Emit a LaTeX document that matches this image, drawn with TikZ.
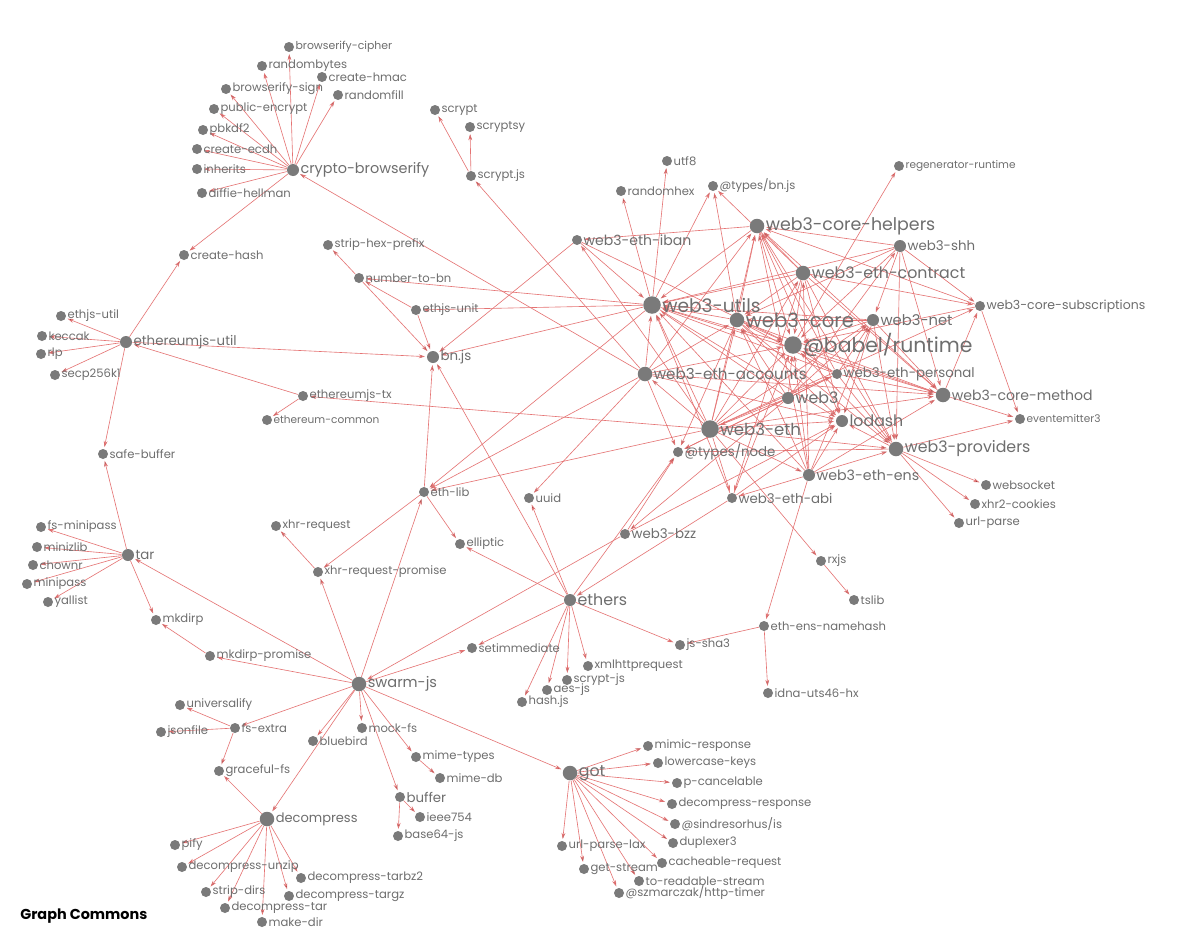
\documentclass[tikz,border=0pt]{standalone}
\usepackage{fontspec}
\setmainfont{Poppins}
\usetikzlibrary{arrows.meta}
\pgfdeclarelayer{bg}
\pgfsetlayers{bg,main}
\definecolor{dotgray}{HTML}{7A7A7A}
\definecolor{txtgray}{HTML}{6E6E6E}
\definecolor{linkred}{HTML}{E57373}

\begin{document}
\begin{tikzpicture}[
    x=0.02cm, y=-0.02cm,
    dotS/.style={circle, fill=dotgray, inner sep=0pt, minimum size=0.2cm, label distance=1pt},
    dotM/.style={dotS, minimum size=0.24cm},
    dotL/.style={dotS, minimum size=0.29cm},
    dotX/.style={dotS, minimum size=0.35cm},
    sz/.style={font=\fontsize{#1}{#1}\selectfont},
    lblS/.style={text=txtgray, inner sep=0.5pt, sz=6.6},
    lblM/.style={lblS, sz=7.6},
    lblL/.style={lblS, sz=9},
    lblX/.style={lblS, sz=10.6},
    dep/.style={draw=linkred, line width=0.35pt, -{Stealth[length=3.5pt, width=2.2pt]}, shorten >=1pt}
]

% background and frame
\begin{pgfonlayer}{bg}
\path[fill=white] (0,0) rectangle (1182,943);
\end{pgfonlayer}

% crypto-browserify cluster
\node[dotS, label={[lblS, sz=6.2]right:browserify-cipher}] (bcipher) at (289,47) {};
\node[dotS, label={[lblS]right:randombytes}] (rbytes) at (262,66) {};
\node[dotS, label={[lblS]right:create-hmac}] (chmac) at (322,77) {};
\node[dotS, label={[lblS]right:browserify-sign}] (bsign) at (226,89) {};
\node[dotS, label={[lblS]right:randomfill}] (rfill) at (338,95) {};
\node[dotS, label={[lblS]right:public-encrypt}] (pubenc) at (214,109) {};
\node[dotS, label={[lblS]right:pbkdf2}] (pbkdf) at (203,130) {};
\node[dotS, label={[lblS]right:create-ecdh}] (cecdh) at (197,149) {};
\node[dotS, label={[lblS]right:inherits}] (inherits) at (197,169) {};
\node[dotS, label={[lblS]right:diffie-hellman}] (dh) at (202,193) {};
\node[dotM, label={[lblM, sz=8.2]right:crypto-browserify}] (cryptob) at (293,170) {};
\node[dotS, label={[lblS]right:create-hash}] (chash) at (184,255) {};

% scrypt
\node[dotS, label={[lblS]right:scrypt}] (scrypt) at (435,110) {};
\node[dotS, label={[lblS]right:scryptsy}] (scryptsy) at (470,127) {};
\node[dotS, label={[lblS]right:scrypt.js}] (scryptjs) at (471,176) {};

% web3 core
\node[dotS, label={[lblS]right:utf8}] (utf8) at (667,161) {};
\node[dotS, label={[lblS]right:randomhex}] (randomhex) at (621,191) {};
\node[dotS, label={[lblS]right:@types/bn.js}] (typesbn) at (713,186) {};
\node[dotS, label={[lblS, sz=6.0]right:regenerator-runtime}] (regen) at (899,166) {};
\node[dotS, label={[lblS, sz=8.0]right:web3-eth-iban}] (iban) at (577,240) {};
\node[dotL, label={[lblL, sz=9.9]right:web3-core-helpers}] (helpers) at (757,226) {};
\node[dotM, label={[lblM]right:web3-shh}] (shh) at (900,246) {};
\node[dotL, label={[lblL]right:web3-eth-contract}] (contract) at (803,273) {};
\node[dotX, label={[lblX]right:web3-utils}] (utils) at (652,305) {};
\node[dotL, label={[lblL, sz=11.2]right:web3-core}] (core) at (737,320) {};
\node[dotM, label={[lblL, sz=8.4]right:web3-net}] (net) at (873,320) {};
\node[dotS, label={[lblS, sz=7.1]right:web3-core-subscriptions}] (subs) at (980,306) {};
\node[dotX, label={[lblX, sz=11.6]right:@babel/runtime}] (babel) at (793,345) {};
\node[dotL, label={[lblL, sz=8.6]right:web3-eth-accounts}] (accounts) at (645,374) {};
\node[dotS, label={[lblM]right:web3-eth-personal}] (personal) at (837,374) {};
\node[dotM, label={[lblL]right:web3}] (w3) at (788,398) {};
\node[dotL, label={[lblL, sz=8.0]right:web3-core-method}] (method) at (943,395) {};
\node[dotS, label={[lblS, sz=6.0]right:eventemitter3}] (ee3) at (1020,419) {};
\node[dotM, label={[lblL]right:lodash}] (lodash) at (842,421) {};
\node[dotX, label={[lblX, sz=9.4]right:web3-eth}] (eth) at (710,429) {};
\node[dotL, label={[lblL]right:web3-providers}] (providers) at (896,449) {};
\node[dotS, label={[lblM]right:@types/node}] (typesnode) at (678,452) {};
\node[dotM, label={[lblL, sz=8.1]right:web3-eth-ens}] (ens) at (809,475) {};
\node[dotS, label={[lblS]right:websocket}] (websocket) at (986,485) {};
\node[dotS, label={[lblM]right:web3-eth-abi}] (abi) at (732,498) {};
\node[dotS, label={[lblS]right:xhr2-cookies}] (xhr2) at (975,504) {};
\node[dotS, label={[lblS]right:url-parse}] (urlparse) at (959,523) {};
\node[dotS, label={[lblM]right:web3-bzz}] (bzz) at (625,534) {};
\node[dotS, label={[lblS]right:rxjs}] (rxjs) at (821,561) {};
\node[dotS, label={[lblS]right:tslib}] (tslib) at (854,600) {};

% bn.js and friends
\node[dotS, label={[lblS]right:strip-hex-prefix}] (striphex) at (328,245) {};
\node[dotS, label={[lblS]right:number-to-bn}] (numbn) at (359,278) {};
\node[dotS, label={[lblS]right:ethjs-unit}] (ethjsunit) at (416,310) {};
\node[dotM, label={[lblM]right:bn.js}] (bnjs) at (433,357) {};
\node[dotS, label={[lblS]right:ethereumjs-tx}] (ethtx) at (303,396) {};
\node[dotS, label={[lblS, sz=6.0]right:ethereum-common}] (ethcommon) at (267,420) {};

% ethereumjs-util
\node[dotS, label={[lblS]right:ethjs-util}] (ethjsutil) at (61,316) {};
\node[dotS, label={[lblS]right:keccak}] (keccak) at (42,336) {};
\node[dotM, label={[lblM]right:ethereumjs-util}] (ethutil) at (126,342) {};
\node[dotS, label={[lblS]right:rlp}] (rlp) at (41,354) {};
\node[dotS, label={[lblS]right:secp256k1}] (secp) at (55,375) {};
\node[dotS, label={[lblS]right:safe-buffer}] (safebuf) at (103,454) {};

% tar
\node[dotS, label={[lblS]right:fs-minipass}] (fsminipass) at (41,527) {};
\node[dotS, label={[lblS]right:minizlib}] (minizlib) at (37,547) {};
\node[dotM, label={[lblM]right:tar}] (tar) at (128,555) {};
\node[dotS, label={[lblS]right:chownr}] (chownr) at (33,565) {};
\node[dotS, label={[lblS]right:minipass}] (minipass) at (27,584) {};
\node[dotS, label={[lblS]right:yallist}] (yallist) at (48,602) {};
\node[dotS, label={[lblS]right:mkdirp}] (mkdirp) at (156,620) {};
\node[dotS, label={[lblS]right:mkdirp-promise}] (mkdirpprom) at (210,656) {};

% eth-lib and ethers
\node[dotS, label={[lblS]right:uuid}] (uuid) at (529,498) {};
\node[dotS, label={[lblS]right:eth-lib}] (ethlib) at (424,492) {};
\node[dotS, label={[lblS]right:xhr-request}] (xhrreq) at (276,526) {};
\node[dotS, label={[lblS]right:elliptic}] (elliptic) at (460,544) {};
\node[dotS, label={[lblS]right:xhr-request-promise}] (xhrprom) at (318,572) {};
\node[dotM, label={[lblL]right:ethers}] (ethers) at (570,600) {};
\node[dotS, label={[lblS]right:eth-ens-namehash}] (namehash) at (764,626) {};
\node[dotS, label={[lblS]right:js-sha3}] (jssha) at (680,645) {};
\node[dotS, label={[lblS]right:setimmediate}] (setimm) at (472,648) {};
\node[dotS, label={[lblS]right:xmlhttprequest}] (xmlhttp) at (588,666) {};
\node[dotS, label={[lblS]right:scrypt-js}] (scryptjsb) at (567,680) {};
\node[dotS, label={[lblS]right:aes-js}] (aesjs) at (547,690) {};
\node[dotS, label={[lblS]right:idna-uts46-hx}] (idna) at (768,693) {};
\node[dotS, label={[lblS]right:hash.js}] (hashjs) at (522,702) {};

% swarm-js
\node[dotL, label={[lblL, sz=8.3]right:swarm-js}] (swarm) at (359,684) {};
\node[dotS, label={[lblS]right:universalify}] (universalify) at (180,705) {};
\node[dotS, label={[lblS]right:jsonfile}] (jsonfile) at (161,732) {};
\node[dotS, label={[lblS]right:fs-extra}] (fsextra) at (235,728) {};
\node[dotS, label={[lblS]right:mock-fs}] (mockfs) at (362,728) {};
\node[dotS, label={[lblS]right:bluebird}] (bluebird) at (313,741) {};
\node[dotS, label={[lblS]right:mime-types}] (mimetypes) at (416,757) {};
\node[dotS, label={[lblS]right:graceful-fs}] (graceful) at (219,771) {};
\node[dotS, label={[lblS]right:mime-db}] (mimedb) at (440,778) {};
\node[dotS, label={[lblM]right:buffer}] (buffer) at (400,797) {};
\node[dotS, label={[lblS]right:ieee754}] (ieee) at (420,817) {};
\node[dotS, label={[lblS]right:base64-js}] (base64) at (398,836) {};

% decompress
\node[dotL, label={[lblL, sz=7.4]right:decompress}] (decompress) at (267,819) {};
\node[dotS, label={[lblS]right:pify}] (pify) at (175,845) {};
\node[dotS, label={[lblS]right:decompress-unzip}] (decunzip) at (182,867) {};
\node[dotS, label={[lblS]right:decompress-tarbz2}] (dectarbz) at (301,878) {};
\node[dotS, label={[lblS]right:strip-dirs}] (stripdirs) at (206,892) {};
\node[dotS, label={[lblS]right:decompress-targz}] (dectargz) at (289,896) {};
\node[dotS, label={[lblS]right:decompress-tar}] (dectar) at (225,908) {};
\node[dotS, label={[lblS]right:make-dir}] (makedir) at (262,922) {};

% got
\node[dotL, label={[lblL]right:got}] (got) at (570,773) {};
\node[dotS, label={[lblS]right:mimic-response}] (mimic) at (648,746) {};
\node[dotS, label={[lblS]right:lowercase-keys}] (lowercase) at (658,763) {};
\node[dotS, label={[lblS]right:p-cancelable}] (pcancel) at (677,783) {};
\node[dotS, label={[lblS]right:decompress-response}] (decresp) at (672,804) {};
\node[dotS, label={[lblS]right:@sindresorhus/is}] (sindre) at (675,824) {};
\node[dotS, label={[lblS]right:duplexer3}] (duplexer) at (673,843) {};
\node[dotS, label={[lblS]right:url-parse-lax}] (urlparselax) at (562,846) {};
\node[dotS, label={[lblS]right:cacheable-request}] (cacheable) at (662,863) {};
\node[dotS, label={[lblS]right:get-stream}] (getstream) at (584,869) {};
\node[dotS, label={[lblS]right:to-readable-stream}] (toreadable) at (639,881) {};
\node[dotS, label={[lblS]right:@szmarczak/http-timer}] (httptimer) at (619,893) {};

% brand
\node[anchor=west, inner sep=0pt, font=\bfseries\fontsize{8.2}{10}\selectfont] (brand) at (20,916) {Graph Commons};

% dependencies
\begin{pgfonlayer}{bg}
\draw[dep] (cryptob) edge (bcipher) edge (rbytes) edge (chmac) edge (bsign) edge (rfill) edge (pubenc)
  edge (pbkdf) edge (cecdh) edge (inherits) edge (dh) edge (chash);
\draw[dep] (scryptjs) edge (scrypt) edge (scryptsy);
\draw[dep] (ethutil) edge (chash) edge (ethjsutil) edge (keccak) edge (rlp) edge (secp) edge (safebuf) edge (bnjs);
\draw[dep] (ethtx) edge (ethutil) edge (ethcommon);
\draw[dep] (numbn) edge (striphex) edge (bnjs);
\draw[dep] (ethjsunit) edge (numbn) edge (bnjs);
\draw[dep] (ethlib) edge (bnjs) edge (elliptic) edge (xhrprom);
\draw[dep] (xhrprom) edge (xhrreq);
\draw[dep] (swarm) edge (ethlib) edge (xhrprom) edge (setimm) edge (tar) edge (mkdirpprom) edge (fsextra)
  edge (bluebird) edge (mockfs) edge (mimetypes) edge (buffer) edge (decompress) edge (got);
\draw[dep] (mkdirpprom) edge (mkdirp);
\draw[dep] (tar) edge (safebuf) edge (fsminipass) edge (minizlib) edge (chownr) edge (minipass) edge (yallist) edge (mkdirp);
\draw[dep] (fsextra) edge (universalify) edge (jsonfile) edge (graceful);
\draw[dep] (decompress) edge (graceful) edge (pify) edge (decunzip) edge (stripdirs) edge (dectar)
  edge (makedir) edge (dectargz) edge (dectarbz);
\draw[dep] (buffer) edge (ieee) edge (base64);
\draw[dep] (mimetypes) edge (mimedb);
\draw[dep] (got) edge (mimic) edge (lowercase) edge (pcancel) edge (decresp) edge (sindre) edge (duplexer)
  edge (cacheable) edge (toreadable) edge (httptimer) edge (getstream) edge (urlparselax);
\draw[dep] (ethers) edge (elliptic) edge (uuid) edge (hashjs) edge (aesjs) edge (scryptjsb) edge (xmlhttp)
  edge (jssha) edge (setimm) edge (bnjs) edge (typesnode);
\draw[dep] (namehash) edge (jssha) edge (idna);
\draw[dep] (rxjs) edge (tslib);
\draw[dep] (babel) edge (regen);
\draw[dep] (providers) edge (ee3) edge (websocket) edge (xhr2) edge (urlparse) edge (helpers) edge (babel)
  edge (typesnode) edge (lodash);
\draw[dep] (method) edge (ee3) edge (helpers) edge (subs) edge (utils) edge (babel);
\draw[dep] (subs) edge (ee3) edge (helpers) edge (babel);
\draw[dep] (w3) edge (bzz) edge (core) edge (eth) edge (personal) edge (net) edge (shh) edge (utils)
  edge (babel) edge (typesnode);
\draw[dep] (bzz) edge (swarm) edge (typesnode) edge (lodash);
\draw[dep] (core) edge (helpers) edge (method) edge (utils) edge (babel) edge (typesbn) edge (typesnode)
  edge (lodash) edge (providers);
\draw[dep] (helpers) edge (iban) edge (utils) edge (babel) edge (lodash);
\draw[dep] (eth) edge (core) edge (helpers) edge (method) edge (subs) edge (abi) edge (accounts)
  edge (contract) edge (ens) edge (iban) edge (personal) edge (net) edge (utils) edge (babel)
  edge (ethtx) edge (rxjs) edge (ethlib) edge (providers) edge (lodash);
\draw[dep] (abi) edge (ethers) edge (lodash) edge (utils) edge (babel);
\draw[dep] (accounts) edge (cryptob) edge (ethlib) edge (scryptjs) edge (uuid) edge (core) edge (helpers)
  edge (method) edge (utils) edge (babel) edge (lodash) edge (typesnode);
\draw[dep] (contract) edge (core) edge (helpers) edge (method) edge (subs) edge (abi) edge (utils)
  edge (babel) edge (typesbn) edge (lodash) edge (providers);
\draw[dep] (ens) edge (namehash) edge (core) edge (helpers) edge (method) edge (abi) edge (contract)
  edge (net) edge (utils) edge (babel) edge (lodash) edge (providers);
\draw[dep] (iban) edge (bnjs) edge (utils) edge (babel);
\draw[dep] (personal) edge (core) edge (helpers) edge (method) edge (net) edge (utils) edge (babel)
  edge (typesnode) edge (providers);
\draw[dep] (net) edge (core) edge (method) edge (utils) edge (babel) edge (lodash) edge (providers);
\draw[dep] (shh) edge (core) edge (helpers) edge (method) edge (subs) edge (net) edge (utils)
  edge (babel) edge (providers);
\draw[dep] (utils) edge (bnjs) edge (ethlib) edge (ethjsunit) edge (numbn) edge (randomhex) edge (utf8)
  edge (typesbn) edge (babel) edge (lodash);
\end{pgfonlayer}
\end{tikzpicture}
\end{document}
